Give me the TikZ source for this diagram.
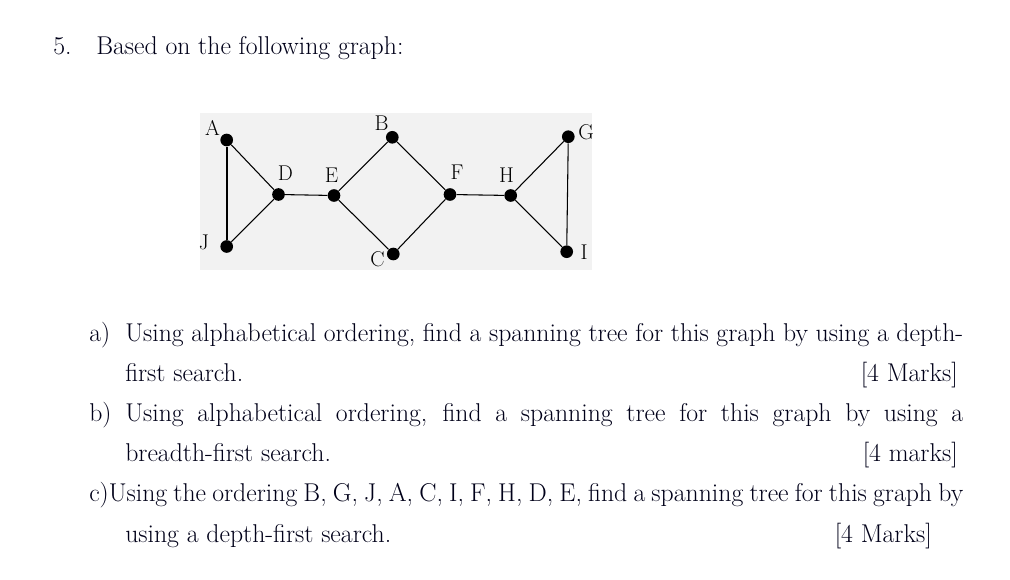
\documentclass[tikz,border=0pt]{standalone}
\begin{document}
\begin{tikzpicture}[x=0.75pt,y=-0.75pt,
  vtx/.style={circle,fill=black,inner sep=0pt,minimum size=9.5pt},
  lbl/.style={inner sep=0pt,font=\fontsize{16}{16}\selectfont},
  txt/.style={inner sep=0pt,anchor=base west,font=\fontsize{19.3}{22}\selectfont,text=black!90!blue},
  rtxt/.style={inner sep=0pt,anchor=base east,font=\fontsize{19.3}{22}\selectfont,text=black!90!blue},
  edge/.style={draw=black,line width=0.8pt}]
\useasboundingbox (0,0) rectangle (1010,580);
\fill[white] (0,0) rectangle (1010,580);
% graph background
\fill[black!5] (200,113) rectangle (592,270);
% vertices
\node[vtx] (A) at (226.7,140) {};
\node[vtx] (J) at (226.7,246.5) {};
\node[vtx] (D) at (278.5,194.5) {};
\node[vtx] (E) at (334,195.5) {};
\node[vtx] (B) at (392.3,137.3) {};
\node[vtx] (C) at (393.3,254) {};
\node[vtx] (F) at (450,194.5) {};
\node[vtx] (H) at (510.7,195.5) {};
\node[vtx] (G) at (568.3,136.7) {};
\node[vtx] (I) at (566.7,251.7) {};
% edges
\draw[edge,line width=1.6pt] (A) -- (J);
\draw[edge] (A) -- (D);
\draw[edge] (J) -- (D);
\draw[edge] (D) -- (E);
\draw[edge] (E) -- (B);
\draw[edge] (E) -- (C);
\draw[edge] (B) -- (F);
\draw[edge] (C) -- (F);
\draw[edge] (F) -- (H);
\draw[edge] (H) -- (G);
\draw[edge] (H) -- (I);
\draw[edge] (G) -- (I);
% labels
\node[lbl] (lA) at (212.5,128) {A};
\node[lbl] (lJ) at (204,242) {J};
\node[lbl] (lD) at (285.5,173) {D};
\node[lbl] (lE) at (331.5,175) {E};
\node[lbl] (lB) at (381.5,123) {B};
\node[lbl] (lC) at (377.5,259) {C};
\node[lbl] (lF) at (457,172.5) {F};
\node[lbl] (lH) at (506.5,175) {H};
\node[lbl] (lG) at (586,132) {G};
\node[lbl] (lI) at (584,252) {I};
% text
\node[txt] (n5) at (53,55) {5.};
\node[txt] (hd) at (96,55) {Based on the following graph:};
\node[txt] (la) at (89,342) {a)};
\node[txt] (ta1) at (125,342) {\makebox[628.5pt][s]{Using alphabetical ordering, find a spanning tree for this graph by using a depth-}};
\node[txt] (ta2) at (125,382) {first search.};
\node[rtxt] (ma) at (958,382) {[4 Marks]};
\node[txt] (lb) at (89,422) {b)};
\node[txt] (tb1) at (125,422) {\makebox[628.5pt][s]{Using alphabetical ordering, find a spanning tree for this graph by using a}};
\node[txt] (tb2) at (125,462) {breadth-first search.};
\node[rtxt] (mb) at (958,462) {[4 marks]};
\node[txt] (tc1) at (89,502) {\makebox[655.5pt][s]{c)Using the ordering B, G, J, A, C, I, F, H, D, E, find a spanning tree for this graph by}};
\node[txt] (tc2) at (125,542) {using a depth-first search.};
\node[rtxt] (mc) at (932,542) {[4 Marks]};
\end{tikzpicture}
\end{document}
